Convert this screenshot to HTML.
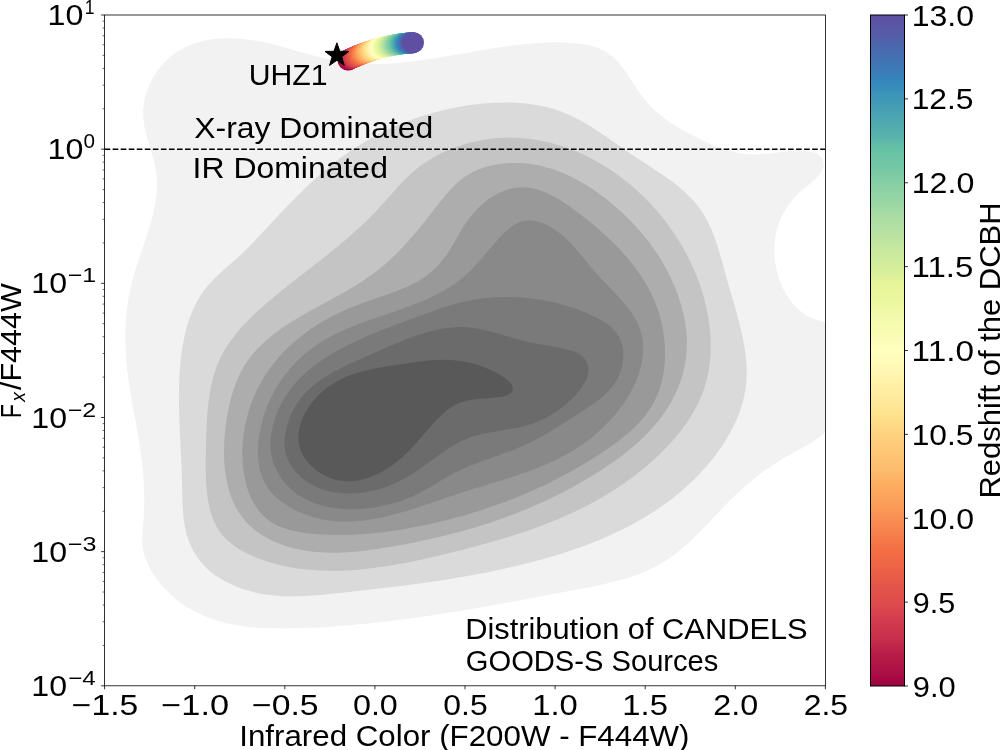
<!DOCTYPE html>
<html><head><meta charset="utf-8"><title>UHZ1 X-ray vs IR color</title>
<style>html,body{margin:0;padding:0;background:#fff;}svg{display:block;will-change:transform;}text{font-family:"Liberation Sans",sans-serif;fill:#000;}</style>
</head><body>
<svg width="1000" height="750" viewBox="0 0 1000 750">
<rect width="1000" height="750" fill="#fff"/>
<defs><linearGradient id="sp" x1="0" y1="0" x2="0" y2="1"><stop offset="0" stop-color="#5e4fa2"/><stop offset="0.03" stop-color="#545ca8"/><stop offset="0.05" stop-color="#496aaf"/><stop offset="0.08" stop-color="#3d79b6"/><stop offset="0.1" stop-color="#3387bc"/><stop offset="0.12" stop-color="#3d95b8"/><stop offset="0.15" stop-color="#4ba4b1"/><stop offset="0.18" stop-color="#58b2ac"/><stop offset="0.2" stop-color="#66c2a5"/><stop offset="0.23" stop-color="#76c8a5"/><stop offset="0.25" stop-color="#86cfa5"/><stop offset="0.28" stop-color="#99d6a4"/><stop offset="0.3" stop-color="#aadca4"/><stop offset="0.33" stop-color="#bae3a1"/><stop offset="0.35" stop-color="#c8e99e"/><stop offset="0.38" stop-color="#d6ee9b"/><stop offset="0.4" stop-color="#e6f598"/><stop offset="0.43" stop-color="#ecf7a1"/><stop offset="0.45" stop-color="#f3faac"/><stop offset="0.48" stop-color="#f9fcb5"/><stop offset="0.5" stop-color="#ffffbe"/><stop offset="0.53" stop-color="#fff7b2"/><stop offset="0.55" stop-color="#fff0a6"/><stop offset="0.58" stop-color="#fee797"/><stop offset="0.6" stop-color="#fee08b"/><stop offset="0.62" stop-color="#fed481"/><stop offset="0.65" stop-color="#fdc776"/><stop offset="0.68" stop-color="#fdbb6c"/><stop offset="0.7" stop-color="#fdad60"/><stop offset="0.73" stop-color="#fb9d59"/><stop offset="0.75" stop-color="#f98e52"/><stop offset="0.78" stop-color="#f67c4a"/><stop offset="0.8" stop-color="#f46d43"/><stop offset="0.83" stop-color="#eb6046"/><stop offset="0.85" stop-color="#e45549"/><stop offset="0.88" stop-color="#dd4a4c"/><stop offset="0.9" stop-color="#d43d4f"/><stop offset="0.93" stop-color="#c72e4c"/><stop offset="0.95" stop-color="#b81e48"/><stop offset="0.98" stop-color="#ab0f45"/><stop offset="1" stop-color="#9e0142"/></linearGradient><clipPath id="axc"><rect x="104.6" y="15.0" width="720.8" height="670.8"/></clipPath></defs>
<g clip-path="url(#axc)">
<path d="M143.29,118.97 143.22,110.08 144.33,101.21 146.54,92.5 149.79,84.07 153.98,76.07 159.05,68.61 164.91,61.84 171.49,55.87 178.7,50.83 186.46,46.71 194.65,43.45 203.18,41.02 211.95,39.36 220.86,38.42 229.8,38.16 238.7,38.52 247.53,39.42 256.32,40.79 265.06,42.53 273.76,44.57 282.43,46.83 291.07,49.23 299.7,51.68 308.32,54.09 316.94,56.4 325.55,58.51 334.18,60.34 342.83,61.82 351.5,62.9 360.19,63.59 368.9,63.93 377.63,63.95 386.38,63.68 395.15,63.14 403.94,62.37 412.75,61.4 421.57,60.26 430.4,58.97 439.25,57.56 448.12,56.07 457,54.53 465.89,52.96 474.79,51.39 483.71,49.86 492.63,48.39 501.57,47.01 510.51,45.76 519.46,44.66 528.42,43.74 537.39,43.03 546.36,42.56 555.33,42.37 564.31,42.47 573.27,42.94 582.08,43.93 590.59,45.61 598.68,48.17 606.19,51.79 612.99,56.64 619.02,62.78 624.47,69.91 629.59,77.63 634.63,85.53 639.85,93.24 645.46,100.39 651.51,106.93 657.95,112.91 664.76,118.41 671.9,123.46 679.32,128.14 687,132.5 694.9,136.6 702.98,140.49 711.21,144.16 719.59,147.48 728.09,150.31 736.71,152.52 745.43,153.96 754.25,154.5 763.14,154.12 772.1,153.13 781.12,151.94 790.18,150.96 799.27,150.61 808.39,151.27 817.04,153.6 822.74,159.1 823.85,166.3 821.16,172.77 815.78,178.8 808.82,184.69 801.39,190.75 794.56,197.29 788.74,204.38 783.93,211.95 780.1,219.91 777.25,228.2 775.35,236.74 774.4,245.45 774.37,254.26 775.25,263.09 777.02,271.86 779.67,280.48 783.2,288.78 787.61,296.57 792.89,303.68 799.04,309.92 806.07,315.13 813.96,319.11 822.72,321.69 831.48,323.65 837.74,327.55 840.93,334.08 841.76,342.64 840.97,352.59 839.3,363.32 837.48,374.2 836.23,384.61 835.75,394.21 835.55,403 835.09,411.02 833.84,418.3 831.27,424.86 826.95,430.76 821.07,436.11 814.01,441.05 806.17,445.71 797.92,450.23 789.66,454.75 781.7,459.39 774.07,464.19 766.73,469.15 759.65,474.31 752.8,479.68 746.13,485.27 739.63,491.11 733.24,497.22 726.93,503.56 720.68,510.06 714.44,516.65 708.18,523.26 701.87,529.81 695.47,536.23 688.94,542.44 682.26,548.37 675.38,553.95 668.27,559.1 660.9,563.74 653.26,567.86 645.37,571.5 637.26,574.71 628.95,577.55 620.49,580.06 611.89,582.3 603.18,584.32 594.4,586.17 585.57,587.91 576.72,589.58 567.88,591.24 559.05,592.91 550.24,594.57 541.44,596.23 532.65,597.88 523.87,599.52 515.1,601.14 506.34,602.75 497.58,604.34 488.82,605.91 480.07,607.45 471.33,608.96 462.58,610.44 453.83,611.89 445.07,613.29 436.32,614.66 427.56,615.98 418.79,617.25 410.01,618.47 401.22,619.64 392.42,620.74 383.61,621.79 374.79,622.78 365.94,623.69 357.09,624.54 348.21,625.32 339.31,626.02 330.4,626.64 321.46,627.17 312.49,627.62 303.5,627.99 294.49,628.26 285.47,628.4 276.46,628.37 267.48,628.14 258.56,627.65 249.71,626.88 240.96,625.77 232.33,624.29 223.84,622.39 215.51,620.04 207.37,617.19 199.43,613.81 191.71,609.85 184.24,605.26 177.04,600.02 170.14,594.07 163.56,587.4 157.49,580.09 152.14,572.26 147.74,564.03 144.5,555.53 142.65,546.89 142.2,538.18 142.65,529.44 143.43,520.65 144.02,511.83 144.28,502.97 144.23,494.1 143.9,485.22 143.31,476.34 142.5,467.46 141.48,458.61 140.29,449.79 138.96,441 137.5,432.26 135.95,423.57 134.37,414.89 132.79,406.23 131.26,397.56 129.82,388.87 128.51,380.13 127.39,371.34 126.48,362.48 125.83,353.55 125.45,344.58 125.37,335.57 125.58,326.56 126.12,317.58 127,308.63 128.23,299.75 129.83,290.96 131.82,282.28 134.17,273.72 136.8,265.24 139.61,256.82 142.5,248.42 145.38,240.02 148.15,231.58 150.72,223.08 152.98,214.51 154.84,205.88 156.18,197.21 156.91,188.52 156.93,179.83 156.12,171.15 154.41,162.49 152.01,153.85 149.3,145.2 146.69,136.52 144.55,127.79Z" fill="#f2f2f2"/><path d="M463.91,106.09 470.47,105.08 477.07,104.22 483.68,103.52 490.29,102.99 496.9,102.64 503.5,102.48 510.08,102.52 516.61,102.77 523.1,103.24 529.54,103.95 535.9,104.9 542.19,106.1 548.38,107.56 554.48,109.3 560.46,111.32 566.32,113.63 572.07,116.22 577.72,119.06 583.29,122.12 588.79,125.37 594.25,128.79 599.67,132.34 605.07,136 610.47,139.74 615.89,143.53 621.34,147.34 626.84,151.14 632.4,154.91 638.03,158.63 643.7,162.31 649.37,165.99 655.02,169.69 660.6,173.42 666.09,177.21 671.44,181.09 676.64,185.07 681.63,189.19 686.4,193.45 690.91,197.9 695.12,202.54 699,207.41 702.52,212.51 705.71,217.85 708.59,223.39 711.21,229.13 713.61,235.04 715.81,241.09 717.85,247.27 719.77,253.56 721.61,259.94 723.4,266.39 725.17,272.88 726.97,279.4 728.82,285.92 730.71,292.45 732.6,298.98 734.49,305.5 736.33,312.02 738.1,318.53 739.78,325.03 741.34,331.52 742.75,337.99 743.99,344.44 745.02,350.87 745.83,357.28 746.39,363.67 746.67,370.02 746.64,376.35 746.28,382.64 745.55,388.9 744.46,395.11 743,401.29 741.2,407.4 739.08,413.46 736.66,419.44 733.95,425.34 730.98,431.16 727.76,436.87 724.31,442.49 720.65,447.99 716.8,453.37 712.78,458.63 708.61,463.75 704.3,468.72 699.87,473.54 695.33,478.22 690.67,482.75 685.9,487.15 681.03,491.41 676.05,495.53 670.97,499.52 665.79,503.38 660.53,507.11 655.17,510.72 649.73,514.21 644.21,517.58 638.61,520.84 632.94,523.98 627.19,527.02 621.38,529.94 615.5,532.77 609.57,535.49 603.58,538.11 597.53,540.64 591.44,543.07 585.3,545.42 579.12,547.67 572.9,549.84 566.64,551.93 560.35,553.94 554.04,555.88 547.7,557.74 541.34,559.53 534.96,561.25 528.57,562.91 522.17,564.5 515.77,566.03 509.36,567.51 502.95,568.94 496.55,570.31 490.15,571.63 483.75,572.91 477.36,574.14 470.97,575.32 464.58,576.47 458.19,577.57 451.8,578.64 445.41,579.67 439.02,580.66 432.62,581.63 426.22,582.56 419.82,583.46 413.41,584.33 407,585.18 400.58,586.01 394.15,586.81 387.71,587.6 381.26,588.36 374.81,589.11 368.34,589.85 361.86,590.57 355.37,591.28 348.86,591.98 342.34,592.68 335.81,593.37 329.26,594.04 322.7,594.68 316.13,595.24 309.56,595.72 302.98,596.07 296.4,596.27 289.83,596.3 283.26,596.13 276.69,595.73 270.14,595.08 263.6,594.15 257.08,592.91 250.58,591.34 244.13,589.43 237.79,587.18 231.6,584.57 225.61,581.62 219.88,578.32 214.45,574.67 209.37,570.67 204.7,566.31 200.48,561.6 196.74,556.54 193.49,551.17 190.7,545.53 188.37,539.65 186.48,533.57 185.02,527.34 183.95,520.97 183.21,514.5 182.72,507.94 182.43,501.33 182.25,494.67 182.13,488 182,481.34 181.8,474.71 181.56,468.1 181.29,461.5 180.98,454.93 180.66,448.37 180.34,441.82 180.02,435.28 179.73,428.75 179.46,422.23 179.24,415.71 179.07,409.19 178.97,402.67 178.94,396.15 179,389.62 179.15,383.08 179.42,376.53 179.81,369.97 180.34,363.41 181.03,356.86 181.88,350.35 182.93,343.88 184.19,337.48 185.67,331.17 187.4,324.96 189.39,318.86 191.66,312.9 194.22,307.1 197.11,301.46 200.32,296.01 203.89,290.76 207.82,285.73 212.13,280.93 216.74,276.32 221.57,271.85 226.53,267.46 231.54,263.1 236.5,258.72 241.34,254.27 246.03,249.73 250.61,245.12 255.1,240.46 259.53,235.75 263.92,231.01 268.31,226.26 272.71,221.51 277.14,216.76 281.61,212.02 286.12,207.31 290.67,202.63 295.26,197.99 299.9,193.39 304.59,188.85 309.33,184.36 314.13,179.94 318.99,175.59 323.92,171.33 328.91,167.16 333.97,163.08 339.11,159.11 344.32,155.25 349.61,151.51 354.98,147.89 360.44,144.41 365.98,141.07 371.6,137.85 377.3,134.78 383.08,131.84 388.93,129.04 394.86,126.37 400.85,123.84 406.9,121.44 413.02,119.19 419.2,117.07 425.43,115.08 431.72,113.24 438.07,111.53 444.46,109.97 450.9,108.54 457.38,107.24Z" fill="#dadada"/><path d="M464.81,144.15 470.37,142.6 475.93,141.27 481.5,140.15 487.06,139.23 492.63,138.53 498.19,138.02 503.74,137.72 509.28,137.61 514.8,137.69 520.31,137.97 525.8,138.43 531.26,139.07 536.71,139.9 542.12,140.9 547.5,142.07 552.84,143.41 558.15,144.92 563.41,146.6 568.64,148.43 573.81,150.42 578.94,152.57 584.02,154.87 589.04,157.31 594,159.9 598.9,162.63 603.73,165.5 608.5,168.5 613.2,171.64 617.83,174.9 622.38,178.29 626.85,181.79 631.24,185.42 635.54,189.16 639.76,193.02 643.89,196.98 647.92,201.05 651.85,205.22 655.69,209.49 659.42,213.86 663.05,218.32 666.57,222.86 669.98,227.5 673.28,232.22 676.45,237.01 679.51,241.89 682.45,246.83 685.25,251.85 687.93,256.93 690.48,262.08 692.89,267.28 695.17,272.55 697.3,277.86 699.29,283.23 701.14,288.65 702.83,294.11 704.37,299.61 705.76,305.14 706.99,310.72 708.05,316.32 708.95,321.94 709.66,327.57 710.2,333.22 710.55,338.86 710.71,344.49 710.66,350.11 710.41,355.71 709.95,361.27 709.26,366.8 708.35,372.29 707.21,377.72 705.84,383.09 704.22,388.4 702.35,393.63 700.23,398.78 697.88,403.85 695.3,408.84 692.52,413.75 689.54,418.57 686.38,423.3 683.04,427.95 679.54,432.5 675.89,436.97 672.11,441.34 668.2,445.61 664.18,449.79 660.06,453.87 655.85,457.85 651.57,461.73 647.23,465.5 642.84,469.17 638.4,472.73 633.92,476.2 629.39,479.56 624.82,482.83 620.2,486 615.55,489.08 610.85,492.07 606.11,494.97 601.34,497.79 596.52,500.52 591.67,503.18 586.77,505.75 581.85,508.25 576.88,510.68 571.88,513.04 566.85,515.33 561.78,517.55 556.68,519.71 551.54,521.81 546.38,523.85 541.18,525.83 535.95,527.76 530.7,529.63 525.41,531.46 520.1,533.24 514.76,534.98 509.39,536.67 504,538.33 498.58,539.94 493.14,541.53 487.67,543.07 482.18,544.59 476.67,546.08 471.14,547.55 465.58,548.99 460.01,550.42 454.41,551.82 448.8,553.21 443.17,554.58 437.53,555.92 431.87,557.24 426.2,558.53 420.51,559.78 414.82,560.98 409.12,562.14 403.42,563.25 397.71,564.3 391.99,565.29 386.28,566.22 380.57,567.07 374.86,567.85 369.15,568.55 363.45,569.17 357.75,569.69 352.06,570.13 346.39,570.46 340.72,570.69 335.07,570.81 329.43,570.81 323.81,570.7 318.21,570.47 312.63,570.11 307.07,569.62 301.53,568.99 296.02,568.21 290.53,567.3 285.08,566.23 279.65,565 274.25,563.61 268.88,562.06 263.55,560.34 258.28,558.44 253.08,556.35 248.02,554.05 243.12,551.54 238.42,548.79 233.97,545.8 229.8,542.55 225.95,539.02 222.46,535.22 219.37,531.11 216.67,526.71 214.34,522.05 212.35,517.14 210.68,512.01 209.31,506.68 208.2,501.17 207.33,495.5 206.68,489.7 206.21,483.78 205.91,477.78 205.75,471.7 205.7,465.58 205.74,459.43 205.83,453.28 205.97,447.14 206.11,441.05 206.29,435 206.51,429 206.78,423.06 207.13,417.18 207.57,411.36 208.11,405.61 208.78,399.94 209.59,394.35 210.54,388.85 211.67,383.43 212.99,378.11 214.51,372.88 216.24,367.77 218.22,362.76 220.44,357.86 222.91,353.09 225.62,348.41 228.55,343.85 231.68,339.38 235.01,335.01 238.52,330.73 242.2,326.53 246.02,322.42 249.98,318.38 254.05,314.41 258.23,310.5 262.51,306.66 266.86,302.87 271.27,299.14 275.73,295.45 280.22,291.8 284.73,288.19 289.25,284.61 293.77,281.05 298.28,277.52 302.8,274.01 307.3,270.5 311.79,267.01 316.26,263.51 320.72,260.02 325.15,256.51 329.56,252.99 333.93,249.45 338.28,245.89 342.58,242.3 346.85,238.68 351.07,235.02 355.24,231.32 359.36,227.57 363.43,223.76 367.44,219.9 371.39,215.97 375.27,211.98 379.08,207.91 382.83,203.78 386.54,199.6 390.25,195.4 393.97,191.2 397.73,187.04 401.56,182.94 405.5,178.92 409.55,175.01 413.77,171.24 418.16,167.62 422.76,164.2 427.56,160.97 432.54,157.95 437.68,155.12 442.94,152.51 448.31,150.1 453.76,147.9 459.27,145.92Z" fill="#c4c4c4"/><path d="M464.52,177.11 468.6,174.45 472.84,172.09 477.23,170.01 481.77,168.21 486.43,166.68 491.19,165.42 496.05,164.42 500.99,163.68 506,163.18 511.05,162.92 516.14,162.9 521.25,163.11 526.37,163.55 531.47,164.2 536.56,165.06 541.6,166.12 546.59,167.39 551.51,168.84 556.37,170.48 561.17,172.3 565.9,174.28 570.56,176.43 575.16,178.72 579.68,181.16 584.14,183.73 588.53,186.43 592.84,189.25 597.09,192.17 601.26,195.2 605.36,198.33 609.38,201.54 613.33,204.83 617.21,208.19 621,211.61 624.72,215.1 628.36,218.64 631.92,222.25 635.4,225.93 638.78,229.68 642.08,233.5 645.3,237.39 648.42,241.35 651.44,245.39 654.37,249.51 657.21,253.71 659.95,257.99 662.58,262.36 665.11,266.81 667.54,271.34 669.86,275.97 672.07,280.68 674.16,285.46 676.11,290.31 677.93,295.21 679.6,300.16 681.13,305.15 682.49,310.17 683.68,315.22 684.69,320.28 685.53,325.35 686.17,330.41 686.61,335.46 686.84,340.5 686.86,345.51 686.66,350.48 686.25,355.42 685.62,360.32 684.78,365.17 683.74,369.97 682.51,374.72 681.07,379.42 679.45,384.06 677.65,388.63 675.66,393.14 673.49,397.59 671.15,401.96 668.64,406.25 665.97,410.47 663.14,414.61 660.16,418.66 657.02,422.62 653.74,426.49 650.33,430.29 646.79,433.99 643.14,437.62 639.37,441.16 635.5,444.63 631.54,448.02 627.49,451.33 623.37,454.57 619.17,457.74 614.92,460.83 610.6,463.86 606.25,466.81 601.85,469.7 597.43,472.53 592.99,475.29 588.53,477.98 584.06,480.62 579.58,483.2 575.1,485.71 570.6,488.17 566.1,490.57 561.59,492.91 557.06,495.2 552.52,497.43 547.98,499.61 543.42,501.74 538.84,503.81 534.26,505.84 529.66,507.81 525.05,509.73 520.42,511.6 515.78,513.43 511.12,515.21 506.45,516.95 501.76,518.63 497.06,520.28 492.34,521.88 487.6,523.44 482.84,524.96 478.07,526.44 473.28,527.88 468.46,529.28 463.63,530.64 458.78,531.96 453.91,533.25 449.02,534.51 444.1,535.73 439.17,536.92 434.21,538.07 429.23,539.2 424.23,540.29 419.2,541.35 414.16,542.39 409.08,543.4 403.98,544.38 398.86,545.33 393.71,546.26 388.54,547.16 383.35,548.02 378.14,548.84 372.92,549.6 367.69,550.3 362.46,550.92 357.23,551.47 352,551.93 346.78,552.29 341.58,552.55 336.38,552.7 331.21,552.72 326.06,552.61 320.93,552.37 315.84,551.98 310.78,551.43 305.76,550.73 300.78,549.85 295.85,548.79 290.99,547.55 286.2,546.13 281.51,544.53 276.92,542.74 272.45,540.76 268.11,538.59 263.92,536.23 259.89,533.67 256.04,530.92 252.37,527.96 248.91,524.8 245.66,521.44 242.63,517.87 239.86,514.09 237.33,510.1 235.04,505.92 233,501.56 231.18,497.03 229.58,492.35 228.2,487.53 227.03,482.59 226.07,477.53 225.29,472.38 224.71,467.14 224.3,461.82 224.07,456.45 224,451.04 224.1,445.59 224.35,440.13 224.74,434.67 225.28,429.21 225.94,423.78 226.73,418.38 227.64,413.04 228.68,407.75 229.85,402.54 231.17,397.41 232.63,392.38 234.25,387.46 236.04,382.65 237.99,377.97 240.13,373.43 242.44,369.05 244.95,364.82 247.65,360.76 250.53,356.86 253.58,353.1 256.79,349.48 260.16,345.99 263.67,342.63 267.32,339.38 271.09,336.24 274.98,333.19 278.98,330.24 283.07,327.37 287.25,324.58 291.52,321.85 295.85,319.18 300.25,316.56 304.69,313.98 309.19,311.44 313.71,308.93 318.26,306.43 322.83,303.94 327.4,301.46 331.97,298.97 336.53,296.46 341.06,293.93 345.57,291.38 350.04,288.78 354.46,286.14 358.82,283.45 363.11,280.69 367.33,277.86 371.46,274.95 375.5,271.96 379.44,268.88 383.28,265.71 387.04,262.45 390.71,259.11 394.31,255.7 397.84,252.21 401.3,248.65 404.7,245.03 408.05,241.35 411.35,237.61 414.62,233.81 417.84,229.96 421.04,226.07 424.22,222.13 427.37,218.16 430.52,214.15 433.66,210.11 436.81,206.05 439.98,202 443.19,198.01 446.47,194.11 449.84,190.32 453.3,186.69 456.89,183.26 460.63,180.05Z" fill="#adadad"/><path d="M463.16,227.07 465.73,223.14 468.44,219.34 471.31,215.68 474.31,212.17 477.44,208.84 480.69,205.69 484.05,202.74 487.53,200 491.1,197.49 494.76,195.21 498.51,193.2 502.33,191.45 506.22,189.99 510.18,188.83 514.18,187.97 518.23,187.45 522.31,187.26 526.43,187.43 530.57,187.96 534.72,188.83 538.88,190.02 543.05,191.51 547.22,193.26 551.38,195.25 555.53,197.47 559.67,199.87 563.78,202.45 567.87,205.17 571.92,208.01 575.93,210.94 579.9,213.94 583.83,216.98 587.69,220.06 591.5,223.16 595.25,226.3 598.94,229.47 602.56,232.67 606.11,235.9 609.58,239.17 612.98,242.48 616.31,245.82 619.55,249.21 622.71,252.63 625.77,256.1 628.75,259.61 631.64,263.16 634.42,266.76 637.11,270.4 639.69,274.1 642.17,277.84 644.54,281.63 646.79,285.48 648.93,289.38 650.95,293.33 652.85,297.34 654.63,301.4 656.27,305.52 657.79,309.7 659.17,313.94 660.41,318.24 661.52,322.61 662.48,327.04 663.3,331.53 663.96,336.09 664.47,340.71 664.83,345.38 665.02,350.08 665.05,354.79 664.9,359.51 664.58,364.23 664.07,368.92 663.38,373.57 662.5,378.17 661.43,382.7 660.15,387.16 658.67,391.53 656.98,395.78 655.08,399.92 652.96,403.93 650.64,407.81 648.12,411.56 645.42,415.2 642.55,418.73 639.53,422.15 636.36,425.47 633.07,428.69 629.65,431.82 626.12,434.87 622.49,437.84 618.79,440.73 615.01,443.55 611.17,446.3 607.28,449 603.36,451.64 599.42,454.24 595.46,456.79 591.48,459.29 587.49,461.75 583.48,464.16 579.46,466.53 575.43,468.86 571.38,471.14 567.31,473.38 563.23,475.58 559.14,477.73 555.03,479.84 550.91,481.91 546.77,483.94 542.62,485.92 538.46,487.87 534.28,489.77 530.09,491.63 525.88,493.46 521.66,495.24 517.43,496.98 513.19,498.68 508.93,500.35 504.66,501.97 500.37,503.56 496.07,505.1 491.76,506.61 487.44,508.09 483.1,509.52 478.75,510.92 474.39,512.28 470.02,513.6 465.63,514.89 461.23,516.14 456.82,517.36 452.4,518.54 447.97,519.68 443.52,520.79 439.07,521.87 434.6,522.91 430.12,523.91 425.63,524.89 421.13,525.83 416.61,526.73 412.09,527.6 407.55,528.43 403,529.22 398.44,529.97 393.87,530.67 389.29,531.33 384.69,531.93 380.08,532.49 375.46,532.99 370.83,533.45 366.18,533.84 361.52,534.18 356.85,534.46 352.16,534.67 347.46,534.82 342.75,534.91 338.02,534.93 333.28,534.88 328.53,534.76 323.76,534.56 318.98,534.29 314.2,533.93 309.43,533.47 304.7,532.89 300.04,532.18 295.45,531.3 290.96,530.25 286.6,529.01 282.38,527.57 278.32,525.89 274.46,523.97 270.79,521.79 267.36,519.33 264.16,516.58 261.2,513.56 258.48,510.3 255.98,506.8 253.71,503.09 251.66,499.18 249.83,495.1 248.21,490.86 246.8,486.48 245.59,481.99 244.58,477.39 243.76,472.71 243.14,467.97 242.7,463.18 242.45,458.35 242.37,453.5 242.46,448.64 242.72,443.78 243.14,438.94 243.71,434.12 244.44,429.35 245.32,424.62 246.34,419.96 247.49,415.38 248.78,410.88 250.2,406.46 251.75,402.12 253.43,397.87 255.23,393.69 257.16,389.59 259.2,385.57 261.37,381.64 263.65,377.78 266.04,374.01 268.54,370.31 271.15,366.7 273.86,363.16 276.68,359.71 279.6,356.34 282.62,353.04 285.74,349.83 288.95,346.7 292.25,343.64 295.64,340.67 299.11,337.78 302.67,334.96 306.32,332.23 310.04,329.58 313.84,327 317.72,324.51 321.66,322.09 325.68,319.76 329.77,317.5 333.92,315.33 338.14,313.23 342.41,311.21 346.75,309.27 351.14,307.42 355.58,305.64 360.08,303.94 364.61,302.29 369.16,300.7 373.73,299.14 378.3,297.59 382.86,296.04 387.38,294.47 391.87,292.87 396.31,291.22 400.68,289.51 404.97,287.71 409.17,285.82 413.27,283.81 417.25,281.68 421.1,279.4 424.81,276.96 428.36,274.35 431.75,271.54 434.97,268.55 438.05,265.38 440.98,262.05 443.77,258.57 446.45,254.95 449.02,251.2 451.48,247.34 453.86,243.36 456.16,239.3 458.43,235.2 460.75,231.1Z" fill="#999999"/><path d="M463.5,276.92 466.51,274.26 469.44,271.49 472.32,268.63 475.14,265.68 477.91,262.66 480.66,259.58 483.38,256.45 486.09,253.29 488.8,250.09 491.51,246.88 494.25,243.67 497.01,240.47 499.81,237.34 502.66,234.32 505.55,231.48 508.5,228.85 511.51,226.49 514.6,224.46 517.76,222.81 521.01,221.57 524.35,220.8 527.75,220.46 531.21,220.52 534.7,220.96 538.2,221.76 541.7,222.87 545.17,224.27 548.61,225.94 551.98,227.85 555.28,229.96 558.48,232.26 561.57,234.7 564.55,237.29 567.43,239.99 570.24,242.81 572.98,245.73 575.68,248.73 578.34,251.81 580.99,254.95 583.63,258.14 586.3,261.36 588.99,264.62 591.72,267.89 594.52,271.16 597.39,274.41 600.35,277.65 603.37,280.88 606.43,284.09 609.5,287.3 612.57,290.51 615.61,293.72 618.6,296.94 621.51,300.17 624.32,303.42 627,306.69 629.54,309.99 631.91,313.32 634.09,316.69 636.05,320.1 637.78,323.56 639.25,327.06 640.47,330.61 641.46,334.2 642.22,337.82 642.75,341.47 643.06,345.15 643.16,348.85 643.05,352.56 642.74,356.28 642.24,360.01 641.55,363.75 640.68,367.48 639.63,371.2 638.42,374.91 637.05,378.61 635.52,382.28 633.84,385.93 632.02,389.56 630.07,393.14 627.98,396.69 625.78,400.19 623.46,403.65 621.02,407.05 618.49,410.4 615.86,413.68 613.13,416.9 610.33,420.05 607.44,423.12 604.49,426.11 601.47,429.01 598.39,431.83 595.26,434.55 592.08,437.18 588.87,439.71 585.61,442.14 582.31,444.49 578.97,446.75 575.59,448.92 572.18,451.02 568.73,453.03 565.24,454.98 561.73,456.86 558.18,458.66 554.6,460.41 550.99,462.1 547.35,463.73 543.69,465.31 540,466.84 536.29,468.32 532.55,469.76 528.79,471.16 525.01,472.53 521.21,473.86 517.39,475.17 513.56,476.45 509.7,477.7 505.84,478.94 501.96,480.17 498.06,481.38 494.16,482.58 490.25,483.78 486.32,484.98 482.39,486.18 478.46,487.38 474.52,488.6 470.57,489.82 466.62,491.06 462.67,492.33 458.72,493.61 454.77,494.91 450.82,496.24 446.87,497.57 442.93,498.92 438.98,500.27 435.03,501.62 431.09,502.97 427.15,504.3 423.2,505.62 419.26,506.92 415.33,508.2 411.39,509.44 407.45,510.66 403.52,511.83 399.59,512.96 395.66,514.05 391.73,515.08 387.8,516.05 383.88,516.96 379.96,517.8 376.04,518.57 372.12,519.27 368.21,519.88 364.3,520.41 360.39,520.84 356.49,521.18 352.58,521.42 348.69,521.56 344.79,521.58 340.9,521.49 337.01,521.28 333.12,520.95 329.24,520.49 325.36,519.89 321.49,519.16 317.62,518.28 313.75,517.25 309.89,516.07 306.03,514.74 302.18,513.24 298.35,511.58 294.56,509.76 290.85,507.77 287.23,505.62 283.73,503.31 280.37,500.84 277.18,498.21 274.18,495.42 271.4,492.47 268.86,489.36 266.58,486.09 264.59,482.66 262.88,479.09 261.45,475.38 260.28,471.56 259.35,467.63 258.67,463.62 258.2,459.54 257.95,455.4 257.89,451.23 258.02,447.03 258.32,442.82 258.78,438.61 259.39,434.43 260.13,430.28 261,426.19 261.99,422.15 263.09,418.17 264.31,414.24 265.64,410.38 267.08,406.58 268.63,402.84 270.29,399.16 272.05,395.55 273.92,392 275.88,388.52 277.95,385.11 280.11,381.78 282.37,378.51 284.72,375.31 287.16,372.19 289.69,369.15 292.3,366.18 295.01,363.29 297.79,360.47 300.66,357.74 303.6,355.09 306.62,352.53 309.72,350.04 312.89,347.65 316.13,345.34 319.44,343.12 322.82,340.99 326.26,338.95 329.77,336.99 333.33,335.11 336.94,333.31 340.61,331.58 344.31,329.9 348.06,328.29 351.85,326.73 355.67,325.21 359.52,323.74 363.4,322.3 367.3,320.89 371.21,319.51 375.14,318.14 379.09,316.79 383.03,315.45 386.98,314.11 390.93,312.77 394.87,311.42 398.8,310.05 402.72,308.67 406.62,307.26 410.5,305.82 414.36,304.35 418.19,302.83 421.98,301.27 425.73,299.66 429.45,297.99 433.12,296.26 436.74,294.45 440.31,292.58 443.82,290.62 447.28,288.58 450.67,286.45 453.99,284.23 457.23,281.9 460.4,279.46Z" fill="#898989"/><path d="M463.64,301.71 466.88,301 470.15,300.36 473.45,299.76 476.78,299.23 480.13,298.76 483.5,298.34 486.89,297.98 490.3,297.68 493.72,297.44 497.16,297.25 500.61,297.12 504.07,297.05 507.54,297.04 511.02,297.08 514.5,297.19 517.99,297.35 521.48,297.56 524.96,297.84 528.45,298.17 531.93,298.56 535.4,299.01 538.87,299.52 542.33,300.08 545.77,300.7 549.21,301.38 552.62,302.11 556.03,302.91 559.41,303.76 562.77,304.66 566.11,305.63 569.43,306.65 572.72,307.73 575.98,308.87 579.22,310.06 582.42,311.32 585.59,312.62 588.72,313.99 591.82,315.41 594.88,316.9 597.89,318.44 600.83,320.06 603.68,321.76 606.41,323.56 609.02,325.48 611.46,327.52 613.73,329.69 615.79,332.01 617.63,334.5 619.23,337.16 620.56,340 621.63,343 622.44,346.14 622.99,349.38 623.3,352.71 623.36,356.09 623.18,359.49 622.76,362.9 622.11,366.27 621.24,369.59 620.14,372.83 618.82,375.96 617.3,378.97 615.58,381.87 613.69,384.65 611.62,387.33 609.4,389.92 607.04,392.41 604.55,394.82 601.95,397.15 599.25,399.41 596.46,401.6 593.6,403.73 590.68,405.81 587.71,407.83 584.72,409.82 581.7,411.77 578.68,413.69 575.67,415.58 572.68,417.46 569.73,419.32 566.8,421.17 563.9,423 561.02,424.81 558.15,426.6 555.29,428.37 552.44,430.11 549.59,431.83 546.73,433.51 543.86,435.17 540.98,436.79 538.08,438.38 535.16,439.93 532.21,441.45 529.23,442.92 526.21,444.35 523.15,445.74 520.04,447.08 516.9,448.39 513.73,449.66 510.53,450.9 507.3,452.12 504.06,453.32 500.8,454.51 497.53,455.68 494.25,456.85 490.98,458.02 487.71,459.19 484.44,460.37 481.19,461.56 477.95,462.77 474.74,464 471.55,465.26 468.39,466.54 465.26,467.87 462.17,469.23 459.13,470.63 456.13,472.09 453.19,473.6 450.29,475.16 447.44,476.77 444.62,478.41 441.83,480.08 439.05,481.76 436.27,483.45 433.48,485.15 430.68,486.82 427.84,488.48 424.98,490.11 422.06,491.69 419.09,493.23 416.05,494.71 412.95,496.13 409.79,497.48 406.57,498.77 403.3,500 399.99,501.15 396.63,502.24 393.24,503.25 389.81,504.2 386.35,505.06 382.87,505.85 379.36,506.57 375.84,507.2 372.3,507.75 368.75,508.21 365.2,508.6 361.65,508.89 358.11,509.1 354.57,509.21 351.04,509.24 347.53,509.17 344.04,509 340.58,508.74 337.14,508.37 333.74,507.91 330.37,507.35 327.05,506.68 323.77,505.9 320.55,505.02 317.37,504.03 314.26,502.93 311.21,501.71 308.23,500.38 305.31,498.94 302.48,497.37 299.72,495.69 297.05,493.89 294.46,491.96 291.97,489.91 289.57,487.73 287.28,485.42 285.09,483 283.03,480.46 281.09,477.81 279.29,475.06 277.63,472.21 276.12,469.26 274.77,466.22 273.58,463.1 272.58,459.9 271.75,456.63 271.12,453.28 270.68,449.87 270.45,446.4 270.43,442.88 270.61,439.33 270.96,435.76 271.48,432.2 272.16,428.65 272.98,425.13 273.93,421.67 274.99,418.27 276.16,414.96 277.43,411.72 278.79,408.57 280.26,405.49 281.81,402.49 283.46,399.56 285.2,396.7 287.02,393.92 288.92,391.2 290.91,388.56 292.97,385.98 295.11,383.46 297.32,381.01 299.59,378.61 301.94,376.28 304.35,374.01 306.82,371.79 309.35,369.63 311.94,367.52 314.58,365.47 317.28,363.46 320.02,361.51 322.8,359.6 325.63,357.73 328.5,355.91 331.41,354.14 334.36,352.4 337.33,350.7 340.34,349.05 343.38,347.42 346.44,345.84 349.52,344.28 352.63,342.76 355.76,341.27 358.91,339.81 362.08,338.38 365.26,336.97 368.45,335.6 371.65,334.24 374.87,332.91 378.09,331.59 381.32,330.3 384.55,329.03 387.78,327.77 391.02,326.53 394.25,325.31 397.48,324.1 400.7,322.9 403.92,321.71 407.12,320.53 410.32,319.35 413.5,318.19 416.67,317.02 419.82,315.86 422.96,314.71 426.08,313.56 429.19,312.42 432.29,311.3 435.38,310.19 438.48,309.11 441.58,308.05 444.68,307.02 447.8,306.03 450.92,305.07 454.07,304.16 457.23,303.29 460.42,302.47Z" fill="#7a7a7a"/><path d="M463.82,327.18 466.48,327.33 469.15,327.56 471.8,327.86 474.46,328.23 477.12,328.66 479.78,329.15 482.45,329.7 485.13,330.29 487.81,330.93 490.5,331.6 493.2,332.31 495.92,333.05 498.65,333.81 501.4,334.59 504.17,335.39 506.95,336.2 509.76,337.01 512.6,337.82 515.46,338.62 518.35,339.42 521.26,340.2 524.21,340.96 527.19,341.69 530.21,342.4 533.26,343.07 536.35,343.7 539.47,344.29 542.63,344.84 545.81,345.37 548.98,345.88 552.14,346.39 555.26,346.91 558.34,347.46 561.35,348.05 564.29,348.68 567.13,349.38 569.86,350.15 572.46,351.01 574.93,351.97 577.23,353.04 579.37,354.23 581.31,355.56 583.06,357.05 584.58,358.68 585.88,360.47 586.93,362.38 587.74,364.4 588.28,366.52 588.56,368.72 588.55,370.98 588.26,373.3 587.69,375.65 586.88,378.04 585.83,380.44 584.56,382.85 583.1,385.27 581.47,387.67 579.68,390.06 577.75,392.42 575.71,394.74 573.57,397.01 571.34,399.22 569.06,401.36 566.74,403.43 564.39,405.42 562.01,407.32 559.6,409.14 557.17,410.88 554.7,412.54 552.21,414.12 549.69,415.62 547.14,417.05 544.57,418.39 541.96,419.66 539.33,420.85 536.67,421.97 533.99,423.01 531.28,423.98 528.54,424.87 525.77,425.7 522.98,426.45 520.17,427.13 517.34,427.76 514.48,428.33 511.62,428.87 508.75,429.37 505.87,429.84 502.99,430.3 500.12,430.76 497.25,431.21 494.39,431.67 491.54,432.15 488.71,432.66 485.9,433.2 483.12,433.78 480.36,434.41 477.64,435.1 474.95,435.86 472.3,436.69 469.7,437.61 467.13,438.61 464.61,439.69 462.13,440.85 459.67,442.07 457.25,443.35 454.86,444.7 452.49,446.1 450.14,447.55 447.81,449.04 445.5,450.57 443.2,452.13 440.91,453.73 438.62,455.35 436.34,456.99 434.07,458.64 431.79,460.31 429.5,461.97 427.21,463.64 424.91,465.31 422.59,466.96 420.26,468.6 417.9,470.22 415.53,471.82 413.13,473.39 410.7,474.92 408.24,476.41 405.75,477.86 403.21,479.26 400.64,480.61 398.03,481.9 395.37,483.13 392.68,484.29 389.95,485.4 387.19,486.44 384.4,487.41 381.59,488.31 378.76,489.15 375.9,489.91 373.03,490.61 370.15,491.23 367.26,491.77 364.36,492.24 361.45,492.63 358.55,492.95 355.65,493.18 352.75,493.33 349.86,493.39 346.99,493.38 344.13,493.27 341.28,493.08 338.46,492.8 335.66,492.43 332.89,491.97 330.15,491.41 327.45,490.76 324.77,490.01 322.14,489.17 319.56,488.22 317.01,487.18 314.52,486.03 312.08,484.78 309.69,483.43 307.36,481.97 305.09,480.4 302.89,478.73 300.76,476.94 298.71,475.05 296.76,473.06 294.92,470.97 293.19,468.78 291.58,466.49 290.12,464.11 288.8,461.64 287.64,459.08 286.65,456.44 285.85,453.71 285.23,450.9 284.82,448.02 284.6,445.07 284.56,442.07 284.69,439.04 284.99,435.99 285.43,432.94 286.01,429.9 286.72,426.89 287.55,423.93 288.48,421.03 289.51,418.2 290.62,415.46 291.81,412.81 293.09,410.25 294.44,407.76 295.86,405.36 297.36,403.03 298.94,400.78 300.58,398.6 302.29,396.49 304.06,394.45 305.9,392.47 307.79,390.55 309.75,388.7 311.76,386.9 313.82,385.15 315.94,383.46 318.11,381.81 320.33,380.22 322.59,378.66 324.89,377.15 327.24,375.68 329.62,374.25 332.04,372.84 334.5,371.48 336.99,370.14 339.51,368.82 342.06,367.53 344.64,366.26 347.23,365.01 349.86,363.78 352.5,362.56 355.16,361.35 357.83,360.16 360.52,358.96 363.22,357.77 365.92,356.59 368.64,355.4 371.36,354.2 374.08,353.01 376.81,351.8 379.53,350.6 382.26,349.4 384.99,348.2 387.73,347.02 390.46,345.84 393.2,344.67 395.93,343.52 398.67,342.38 401.4,341.27 404.14,340.17 406.88,339.11 409.61,338.07 412.35,337.06 415.08,336.08 417.81,335.14 420.54,334.24 423.27,333.38 426,332.57 428.73,331.8 431.45,331.08 434.17,330.41 436.88,329.79 439.6,329.23 442.3,328.73 445.01,328.29 447.71,327.92 450.41,327.61 453.1,327.38 455.79,327.21 458.47,327.12 461.15,327.11Z" fill="#6b6b6b"/><path d="M299.1,445.13 298.75,443.25 298.5,441.35 298.36,439.44 298.31,437.51 298.36,435.57 298.51,433.63 298.74,431.67 299.07,429.72 299.48,427.76 299.98,425.8 300.55,423.85 301.2,421.9 301.93,419.96 302.73,418.03 303.61,416.12 304.55,414.22 305.55,412.34 306.61,410.48 307.74,408.64 308.92,406.83 310.16,405.05 311.45,403.3 312.78,401.59 314.17,399.91 315.59,398.26 317.06,396.66 318.57,395.11 320.11,393.59 321.68,392.13 323.29,390.72 324.92,389.36 326.58,388.06 328.26,386.8 329.97,385.6 331.7,384.45 333.45,383.34 335.23,382.29 337.02,381.27 338.84,380.3 340.68,379.37 342.53,378.49 344.41,377.64 346.29,376.83 348.2,376.06 350.12,375.32 352.05,374.62 354,373.95 355.96,373.31 357.93,372.7 359.92,372.12 361.91,371.57 363.91,371.04 365.92,370.53 367.93,370.05 369.96,369.59 371.99,369.15 374.02,368.73 376.06,368.33 378.1,367.94 380.14,367.57 382.18,367.2 384.23,366.86 386.27,366.52 388.32,366.19 390.36,365.86 392.4,365.55 394.43,365.24 396.46,364.93 398.48,364.62 400.5,364.32 402.51,364.01 404.52,363.71 406.51,363.4 408.51,363.1 410.49,362.81 412.48,362.52 414.46,362.24 416.43,361.96 418.41,361.7 420.38,361.45 422.35,361.22 424.32,360.99 426.29,360.79 428.26,360.6 430.23,360.43 432.2,360.27 434.17,360.14 436.15,360.04 438.13,359.96 440.11,359.9 442.09,359.87 444.08,359.87 446.08,359.89 448.08,359.95 450.09,360.04 452.11,360.17 454.13,360.33 456.16,360.53 458.2,360.76 460.25,361.03 462.3,361.35 464.37,361.71 466.45,362.11 468.54,362.55 470.64,363.04 472.76,363.58 474.89,364.17 477.03,364.81 479.18,365.5 481.35,366.24 483.54,367.04 485.74,367.89 487.94,368.79 490.12,369.74 492.28,370.74 494.41,371.78 496.48,372.85 498.49,373.96 500.42,375.1 502.26,376.26 504,377.45 505.62,378.65 507.12,379.88 508.48,381.11 509.68,382.36 510.71,383.61 511.57,384.86 512.23,386.11 512.68,387.35 512.89,388.55 512.85,389.72 512.55,390.82 512.02,391.85 511.28,392.77 510.33,393.59 509.19,394.32 507.88,394.96 506.41,395.51 504.79,396 503.03,396.42 501.14,396.78 499.15,397.09 497.05,397.37 494.86,397.61 492.6,397.82 490.27,398.02 487.89,398.21 485.48,398.4 483.04,398.6 480.58,398.81 478.13,399.04 475.68,399.31 473.26,399.61 470.88,399.97 468.54,400.37 466.27,400.84 464.07,401.38 461.96,402 459.93,402.7 458,403.48 456.14,404.33 454.36,405.25 452.65,406.23 450.99,407.28 449.4,408.38 447.85,409.52 446.34,410.72 444.88,411.95 443.44,413.22 442.03,414.52 440.63,415.85 439.25,417.2 437.89,418.58 436.54,419.98 435.2,421.39 433.87,422.83 432.55,424.28 431.23,425.74 429.92,427.22 428.61,428.72 427.31,430.22 426,431.73 424.69,433.25 423.38,434.77 422.07,436.3 420.74,437.83 419.41,439.35 418.07,440.88 416.72,442.41 415.35,443.93 413.97,445.45 412.57,446.96 411.16,448.46 409.72,449.95 408.26,451.42 406.78,452.89 405.28,454.34 403.75,455.77 402.19,457.18 400.6,458.57 398.98,459.94 397.33,461.29 395.65,462.61 393.94,463.9 392.21,465.17 390.44,466.4 388.66,467.6 386.84,468.76 385.01,469.89 383.16,470.97 381.28,472.01 379.39,473.01 377.47,473.96 375.55,474.87 373.6,475.72 371.64,476.52 369.67,477.27 367.69,477.96 365.7,478.59 363.7,479.16 361.69,479.67 359.68,480.11 357.66,480.49 355.63,480.8 353.6,481.04 351.57,481.2 349.54,481.29 347.52,481.3 345.49,481.24 343.46,481.09 341.44,480.86 339.43,480.54 337.43,480.14 335.43,479.65 333.45,479.08 331.49,478.44 329.55,477.71 327.63,476.91 325.74,476.04 323.89,475.1 322.07,474.09 320.29,473.02 318.56,471.88 316.87,470.68 315.23,469.42 313.65,468.11 312.12,466.74 310.65,465.32 309.25,463.86 307.92,462.34 306.65,460.78 305.47,459.18 304.36,457.54 303.33,455.86 302.39,454.15 301.54,452.4 300.78,450.62 300.12,448.81 299.56,446.98Z" fill="#595959"/>
</g>
<line x1="104.6" y1="149.16" x2="825.4" y2="149.16" stroke="#000" stroke-width="1.5" stroke-dasharray="5.65 2.39"/>
<g><circle cx="348" cy="59.97" r="10.5" fill="#9e0142"/><circle cx="348.55" cy="59.71" r="10.5" fill="#a20643"/><circle cx="349.1" cy="59.45" r="10.5" fill="#a70b44"/><circle cx="349.65" cy="59.2" r="10.5" fill="#ab0f45"/><circle cx="350.2" cy="58.94" r="10.5" fill="#af1446"/><circle cx="350.75" cy="58.69" r="10.5" fill="#b41947"/><circle cx="351.3" cy="58.44" r="10.5" fill="#b81e48"/><circle cx="351.85" cy="58.19" r="10.5" fill="#be254a"/><circle cx="352.4" cy="57.95" r="10.5" fill="#c32a4b"/><circle cx="352.95" cy="57.7" r="10.5" fill="#c72e4c"/><circle cx="353.5" cy="57.46" r="10.5" fill="#cb334d"/><circle cx="354.05" cy="57.22" r="10.5" fill="#d0384e"/><circle cx="354.61" cy="56.98" r="10.5" fill="#d43d4f"/><circle cx="355.16" cy="56.75" r="10.5" fill="#d7414e"/><circle cx="355.71" cy="56.51" r="10.5" fill="#da464d"/><circle cx="356.26" cy="56.28" r="10.5" fill="#dd4a4c"/><circle cx="356.81" cy="56.05" r="10.5" fill="#df4e4b"/><circle cx="357.36" cy="55.82" r="10.5" fill="#e2514a"/><circle cx="357.91" cy="55.59" r="10.5" fill="#e45549"/><circle cx="358.46" cy="55.37" r="10.5" fill="#e75948"/><circle cx="359.01" cy="55.15" r="10.5" fill="#ea5e47"/><circle cx="359.56" cy="54.93" r="10.5" fill="#ed6246"/><circle cx="360.11" cy="54.71" r="10.5" fill="#ef6645"/><circle cx="360.66" cy="54.49" r="10.5" fill="#f26944"/><circle cx="361.21" cy="54.28" r="10.5" fill="#f46d43"/><circle cx="361.76" cy="54.06" r="10.5" fill="#f57245"/><circle cx="362.31" cy="53.85" r="10.5" fill="#f57748"/><circle cx="362.86" cy="53.64" r="10.5" fill="#f67f4b"/><circle cx="363.41" cy="53.43" r="10.5" fill="#f7844e"/><circle cx="363.96" cy="53.23" r="10.5" fill="#f88950"/><circle cx="364.51" cy="53.03" r="10.5" fill="#f98e52"/><circle cx="365.06" cy="52.82" r="10.5" fill="#f99355"/><circle cx="365.61" cy="52.63" r="10.5" fill="#fa9857"/><circle cx="366.16" cy="52.43" r="10.5" fill="#fb9d59"/><circle cx="366.71" cy="52.23" r="10.5" fill="#fca55d"/><circle cx="367.26" cy="52.04" r="10.5" fill="#fcaa5f"/><circle cx="367.82" cy="51.85" r="10.5" fill="#fdaf62"/><circle cx="368.37" cy="51.66" r="10.5" fill="#fdb365"/><circle cx="368.92" cy="51.47" r="10.5" fill="#fdb768"/><circle cx="369.47" cy="51.28" r="10.5" fill="#fdbb6c"/><circle cx="370.02" cy="51.1" r="10.5" fill="#fdc171"/><circle cx="370.57" cy="50.92" r="10.5" fill="#fdc574"/><circle cx="371.12" cy="50.74" r="10.5" fill="#fec877"/><circle cx="371.67" cy="50.56" r="10.5" fill="#fecc7b"/><circle cx="372.22" cy="50.38" r="10.5" fill="#fed07e"/><circle cx="372.77" cy="50.21" r="10.5" fill="#fed481"/><circle cx="373.32" cy="50.03" r="10.5" fill="#fed884"/><circle cx="373.87" cy="49.86" r="10.5" fill="#fede89"/><circle cx="374.42" cy="49.7" r="10.5" fill="#fee18d"/><circle cx="374.97" cy="49.53" r="10.5" fill="#fee491"/><circle cx="375.52" cy="49.36" r="10.5" fill="#fee695"/><circle cx="376.07" cy="49.2" r="10.5" fill="#fee999"/><circle cx="376.62" cy="49.04" r="10.5" fill="#feeb9d"/><circle cx="377.17" cy="48.88" r="10.5" fill="#feefa3"/><circle cx="377.72" cy="48.72" r="10.5" fill="#fff1a8"/><circle cx="378.27" cy="48.57" r="10.5" fill="#fff3ac"/><circle cx="378.82" cy="48.42" r="10.5" fill="#fff6b0"/><circle cx="379.37" cy="48.27" r="10.5" fill="#fff8b4"/><circle cx="379.92" cy="48.12" r="10.5" fill="#fffbb8"/><circle cx="380.47" cy="47.97" r="10.5" fill="#fffdbc"/><circle cx="381.03" cy="47.82" r="10.5" fill="#fefebd"/><circle cx="381.58" cy="47.68" r="10.5" fill="#fcfeba"/><circle cx="382.13" cy="47.54" r="10.5" fill="#fafdb7"/><circle cx="382.68" cy="47.4" r="10.5" fill="#f8fcb4"/><circle cx="383.23" cy="47.26" r="10.5" fill="#f6fbb0"/><circle cx="383.78" cy="47.13" r="10.5" fill="#f4faad"/><circle cx="384.33" cy="46.99" r="10.5" fill="#f2faaa"/><circle cx="384.88" cy="46.86" r="10.5" fill="#eff9a6"/><circle cx="385.43" cy="46.73" r="10.5" fill="#edf8a3"/><circle cx="385.98" cy="46.6" r="10.5" fill="#ebf7a0"/><circle cx="386.53" cy="46.48" r="10.5" fill="#e9f69d"/><circle cx="387.08" cy="46.35" r="10.5" fill="#e7f59a"/><circle cx="387.63" cy="46.23" r="10.5" fill="#e4f498"/><circle cx="388.18" cy="46.11" r="10.5" fill="#ddf19a"/><circle cx="388.73" cy="45.99" r="10.5" fill="#d8ef9b"/><circle cx="389.28" cy="45.87" r="10.5" fill="#d3ed9c"/><circle cx="389.83" cy="45.76" r="10.5" fill="#cfec9d"/><circle cx="390.38" cy="45.65" r="10.5" fill="#caea9e"/><circle cx="390.93" cy="45.54" r="10.5" fill="#c6e89f"/><circle cx="391.48" cy="45.43" r="10.5" fill="#c1e6a0"/><circle cx="392.03" cy="45.32" r="10.5" fill="#bae3a1"/><circle cx="392.58" cy="45.22" r="10.5" fill="#b5e1a2"/><circle cx="393.13" cy="45.11" r="10.5" fill="#b1dfa3"/><circle cx="393.68" cy="45.01" r="10.5" fill="#acdda4"/><circle cx="394.24" cy="44.91" r="10.5" fill="#a7dba4"/><circle cx="394.79" cy="44.82" r="10.5" fill="#a2d9a4"/><circle cx="395.34" cy="44.72" r="10.5" fill="#99d6a4"/><circle cx="395.89" cy="44.63" r="10.5" fill="#94d4a4"/><circle cx="396.44" cy="44.54" r="10.5" fill="#8fd2a4"/><circle cx="396.99" cy="44.45" r="10.5" fill="#89d0a4"/><circle cx="397.54" cy="44.36" r="10.5" fill="#84cea5"/><circle cx="398.09" cy="44.27" r="10.5" fill="#7ecca5"/><circle cx="398.64" cy="44.19" r="10.5" fill="#79c9a5"/><circle cx="399.19" cy="44.11" r="10.5" fill="#71c6a5"/><circle cx="399.74" cy="44.03" r="10.5" fill="#6bc4a5"/><circle cx="400.29" cy="43.95" r="10.5" fill="#66c2a5"/><circle cx="400.84" cy="43.88" r="10.5" fill="#62bda7"/><circle cx="401.39" cy="43.8" r="10.5" fill="#5eb9a9"/><circle cx="401.94" cy="43.73" r="10.5" fill="#5ab4ab"/><circle cx="402.49" cy="43.66" r="10.5" fill="#56b0ad"/><circle cx="403.04" cy="43.59" r="10.5" fill="#50a9af"/><circle cx="403.59" cy="43.53" r="10.5" fill="#4ba4b1"/><circle cx="404.14" cy="43.46" r="10.5" fill="#47a0b3"/><circle cx="404.69" cy="43.4" r="10.5" fill="#439bb5"/><circle cx="405.24" cy="43.34" r="10.5" fill="#3f97b7"/><circle cx="405.79" cy="43.28" r="10.5" fill="#3b92b9"/><circle cx="406.34" cy="43.22" r="10.5" fill="#358bbc"/><circle cx="406.89" cy="43.17" r="10.5" fill="#3387bc"/><circle cx="407.45" cy="43.12" r="10.5" fill="#3682ba"/><circle cx="408" cy="43.07" r="10.5" fill="#3a7eb8"/><circle cx="408.55" cy="43.02" r="10.5" fill="#3d79b6"/><circle cx="409.1" cy="42.97" r="10.5" fill="#4175b4"/><circle cx="409.65" cy="42.93" r="10.5" fill="#4471b2"/><circle cx="410.2" cy="42.88" r="10.5" fill="#496aaf"/><circle cx="410.75" cy="42.84" r="10.5" fill="#4d65ad"/><circle cx="411.3" cy="42.8" r="10.5" fill="#5061aa"/><circle cx="411.85" cy="42.77" r="10.5" fill="#545ca8"/><circle cx="412.4" cy="42.73" r="10.5" fill="#5758a6"/><circle cx="412.95" cy="42.7" r="10.5" fill="#5b53a4"/><circle cx="413.5" cy="42.67" r="10.5" fill="#5e4fa2"/></g>
<polygon points="336.9,42.8 339.84,51.25 348.79,51.44 341.66,56.85 344.25,65.41 336.9,60.3 329.55,65.41 332.14,56.85 325.01,51.44 333.96,51.25" fill="#000" stroke="#000" stroke-width="1" stroke-linejoin="bevel"/>
<rect x="870.5" y="15.0" width="34" height="671" fill="url(#sp)" stroke="#000" stroke-width="1"/><path d="M904.5,686h3.5M904.5,602.12h3.5M904.5,518.25h3.5M904.5,434.38h3.5M904.5,350.5h3.5M904.5,266.62h3.5M904.5,182.75h3.5M904.5,98.88h3.5M904.5,15h3.5" stroke="#000" stroke-width="0.8" fill="none"/>
<rect x="104.6" y="15.0" width="720.8" height="670.8" fill="none" stroke="#000" stroke-width="0.8"/><path d="M104.6,685.8v3.5M194.7,685.8v3.5M284.8,685.8v3.5M374.9,685.8v3.5M465,685.8v3.5M555.1,685.8v3.5M645.2,685.8v3.5M735.3,685.8v3.5M825.4,685.8v3.5M104.6,685.8h-3.5M104.6,551.64h-3.5M104.6,417.48h-3.5M104.6,283.32h-3.5M104.6,149.16h-3.5M104.6,15h-3.5" stroke="#000" stroke-width="0.8" fill="none"/><path d="M104.6,645.41h-2M104.6,621.79h-2M104.6,605.03h-2M104.6,592.03h-2M104.6,581.4h-2M104.6,572.42h-2M104.6,564.64h-2M104.6,557.78h-2M104.6,511.25h-2M104.6,487.63h-2M104.6,470.87h-2M104.6,457.87h-2M104.6,447.24h-2M104.6,438.26h-2M104.6,430.48h-2M104.6,423.62h-2M104.6,377.09h-2M104.6,353.47h-2M104.6,336.71h-2M104.6,323.71h-2M104.6,313.08h-2M104.6,304.1h-2M104.6,296.32h-2M104.6,289.46h-2M104.6,242.93h-2M104.6,219.31h-2M104.6,202.55h-2M104.6,189.55h-2M104.6,178.92h-2M104.6,169.94h-2M104.6,162.16h-2M104.6,155.3h-2M104.6,108.77h-2M104.6,85.15h-2M104.6,68.39h-2M104.6,55.39h-2M104.6,44.76h-2M104.6,35.78h-2M104.6,28h-2M104.6,21.14h-2" stroke="#000" stroke-width="0.6" fill="none"/>
<text x="47.58" y="25.1" font-size="29.0" textLength="35.83" lengthAdjust="spacingAndGlyphs">10</text><text x="84.63" y="14.1" font-size="20.3" textLength="9.81" lengthAdjust="spacingAndGlyphs">1</text><text x="47.58" y="159.26" font-size="29.0" textLength="35.83" lengthAdjust="spacingAndGlyphs">10</text><text x="83.58" y="148.26" font-size="20.3" textLength="11.51" lengthAdjust="spacingAndGlyphs">0</text><text x="31.39" y="293.42" font-size="29.0" textLength="35.71" lengthAdjust="spacingAndGlyphs">10</text><text x="67.77" y="282.42" font-size="20.3" textLength="28.41" lengthAdjust="spacingAndGlyphs">−1</text><text x="31.39" y="427.58" font-size="29.0" textLength="35.71" lengthAdjust="spacingAndGlyphs">10</text><text x="67.77" y="416.58" font-size="20.3" textLength="28.52" lengthAdjust="spacingAndGlyphs">−2</text><text x="31.39" y="561.74" font-size="29.0" textLength="35.71" lengthAdjust="spacingAndGlyphs">10</text><text x="67.76" y="550.74" font-size="20.3" textLength="28.63" lengthAdjust="spacingAndGlyphs">−3</text><text x="31.39" y="695.9" font-size="29.0" textLength="35.71" lengthAdjust="spacingAndGlyphs">10</text><text x="68.2" y="684.9" font-size="20.3" textLength="27.64" lengthAdjust="spacingAndGlyphs">−4</text><text x="71.84" y="714.9" font-size="29.0" textLength="66.41" lengthAdjust="spacingAndGlyphs">−1.5</text><text x="161.32" y="714.9" font-size="29.0" textLength="67.66" lengthAdjust="spacingAndGlyphs">−1.0</text><text x="251.94" y="714.9" font-size="29.0" textLength="66.62" lengthAdjust="spacingAndGlyphs">−0.5</text><text x="352.94" y="714.9" font-size="29.0" textLength="44.89" lengthAdjust="spacingAndGlyphs">0.0</text><text x="443.3" y="714.9" font-size="29.0" textLength="44.36" lengthAdjust="spacingAndGlyphs">0.5</text><text x="532.24" y="714.9" font-size="29.0" textLength="45.56" lengthAdjust="spacingAndGlyphs">1.0</text><text x="622.34" y="714.9" font-size="29.0" textLength="45.56" lengthAdjust="spacingAndGlyphs">1.5</text><text x="713.34" y="714.9" font-size="29.0" textLength="44.89" lengthAdjust="spacingAndGlyphs">2.0</text><text x="803.7" y="714.9" font-size="29.0" textLength="44.36" lengthAdjust="spacingAndGlyphs">2.5</text><text x="912.83" y="696.5" font-size="29.0" textLength="42.98" lengthAdjust="spacingAndGlyphs">9.0</text><text x="912.85" y="612.62" font-size="29.0" textLength="42.45" lengthAdjust="spacingAndGlyphs">9.5</text><text x="911.69" y="528.75" font-size="29.0" textLength="62.31" lengthAdjust="spacingAndGlyphs">10.0</text><text x="911.71" y="444.88" font-size="29.0" textLength="61.78" lengthAdjust="spacingAndGlyphs">10.5</text><text x="911.61" y="361" font-size="29.0" textLength="62.28" lengthAdjust="spacingAndGlyphs">11.0</text><text x="911.63" y="277.12" font-size="29.0" textLength="61.75" lengthAdjust="spacingAndGlyphs">11.5</text><text x="911.68" y="193.25" font-size="29.0" textLength="62.63" lengthAdjust="spacingAndGlyphs">12.0</text><text x="911.71" y="109.38" font-size="29.0" textLength="61.78" lengthAdjust="spacingAndGlyphs">12.5</text><text x="911.69" y="25.5" font-size="29.0" textLength="62.31" lengthAdjust="spacingAndGlyphs">13.0</text><text x="239.26" y="746" font-size="29.0" textLength="450.24" lengthAdjust="spacingAndGlyphs">Infrared Color (F200W - F444W)</text><text x="194.3" y="138.1" font-size="29.0" textLength="238.95" lengthAdjust="spacingAndGlyphs">X-ray Dominated</text><text x="192.59" y="178.1" font-size="29.0" textLength="195.35" lengthAdjust="spacingAndGlyphs">IR Dominated</text><text x="248.72" y="85" font-size="29.0" textLength="78.89" lengthAdjust="spacingAndGlyphs">UHZ1</text><text x="465.18" y="639.3" font-size="29.0" textLength="342.45" lengthAdjust="spacingAndGlyphs">Distribution of CANDELS</text><text x="465.8" y="671" font-size="29.0" textLength="252.61" lengthAdjust="spacingAndGlyphs">GOODS-S Sources</text><text transform="translate(20.6,418.2) rotate(-90)" x="0" y="0" font-size="29.0" textLength="14.18" lengthAdjust="spacingAndGlyphs">F</text><text transform="translate(25.2,401.85) rotate(-90)" x="0" y="0" font-size="20.3" font-style="italic" textLength="9.63" lengthAdjust="spacingAndGlyphs">x</text><text transform="translate(20.6,390) rotate(-90)" x="0" y="0" font-size="29.0" textLength="106.71" lengthAdjust="spacingAndGlyphs">/F444W</text><text transform="translate(999.6,498.54) rotate(-90)" x="0" y="0" font-size="29.0" textLength="296.12" lengthAdjust="spacingAndGlyphs">Redshift of the DCBH</text>
</svg>
</body></html>
